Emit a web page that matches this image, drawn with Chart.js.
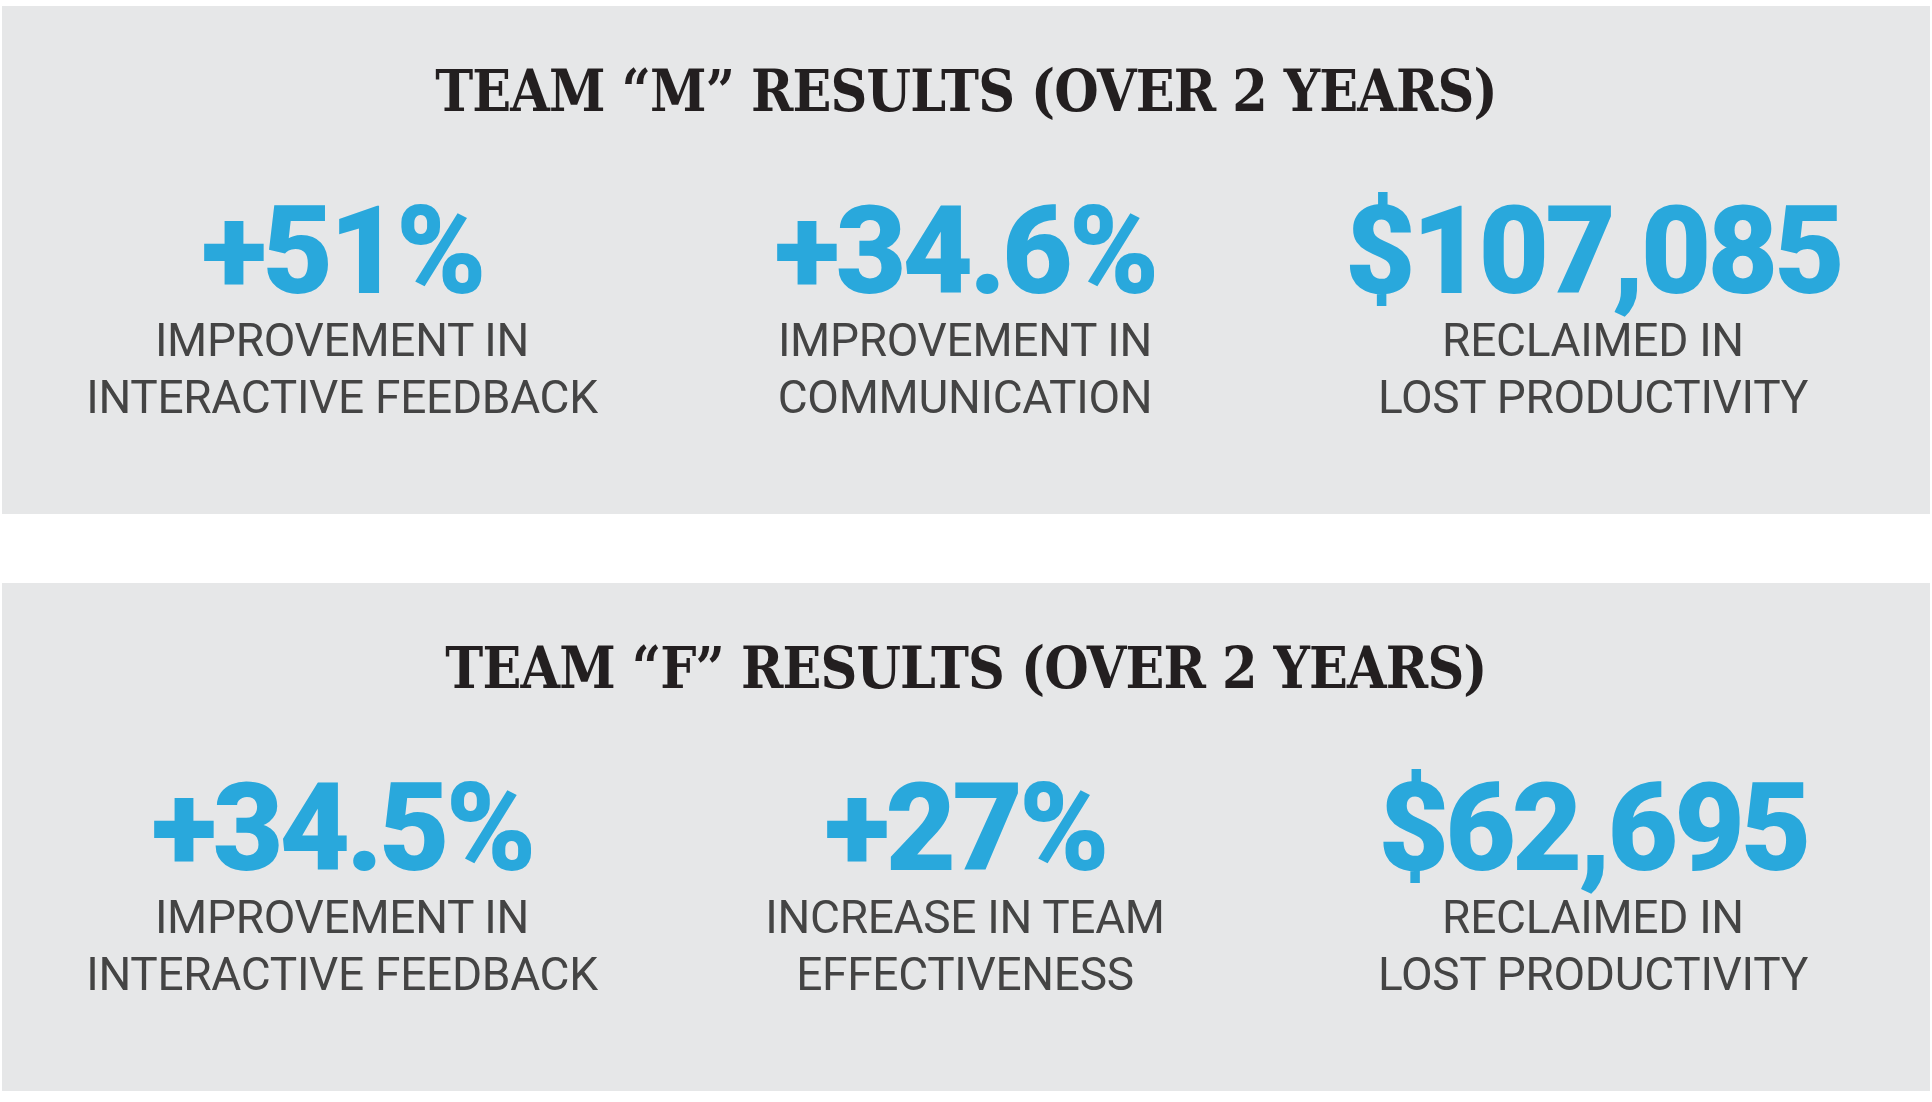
<!DOCTYPE html>
<html><head><meta charset="utf-8">
<script src="https://cdn.jsdelivr.net/npm/chart.js@4"></script>
<style>
html,body{margin:0;padding:0;background:#fff;width:1932px;height:1102px;overflow:hidden}
#bg{position:absolute;left:0;top:0}
.t{position:absolute;left:0;width:1932px;text-align:center;font-family:"DejaVu Serif",serif;font-weight:bold;font-size:58px;color:#231f20;letter-spacing:-1px;transform:translateY(-50%) scaleX(0.88)}
.v{position:absolute;width:640px;text-align:center;font-family:Roboto,sans-serif;font-weight:900;font-size:122px;color:#29a8dc;letter-spacing:-4px;transform:translate(-50%,-50%);line-height:1}
.l{position:absolute;width:640px;text-align:center;font-family:Roboto,sans-serif;font-size:46px;color:#444;line-height:57px;transform:translateX(-50%);letter-spacing:-0.3px}
</style></head><body>
<canvas id="bg" width="1932" height="1102"></canvas>
<div id="txt"></div>
<script>
const titles = ['TEAM \u201cM\u201d RESULTS (OVER 2 YEARS)', 'TEAM \u201cF\u201d RESULTS (OVER 2 YEARS)'];
const valuesM = ['+51%', '+34.6%', '$107,085'];
const labelsM = [['IMPROVEMENT IN', 'INTERACTIVE FEEDBACK'], ['IMPROVEMENT IN', 'COMMUNICATION'], ['RECLAIMED IN', 'LOST PRODUCTIVITY']];
const valuesF = ['+34.5%', '+27%', '$62,695'];
const labelsF = [['IMPROVEMENT IN', 'INTERACTIVE FEEDBACK'], ['INCREASE IN TEAM', 'EFFECTIVENESS'], ['RECLAIMED IN', 'LOST PRODUCTIVITY']];

const panelTops = [6, 583];
const panelHeight = 508;
const colX = [342, 965, 1593];

const panelBg = {
  id: 'panelBg',
  beforeDraw(chart) {
    const ctx = chart.ctx;
    ctx.save();
    ctx.fillStyle = '#e6e7e8';
    panelTops.forEach(y => ctx.fillRect(2, y, 1928, panelHeight));
    ctx.restore();
  }
};
new Chart(document.getElementById('bg'), {
  type: 'scatter',
  data: { datasets: [{ data: [] }] },
  options: {
    responsive: false, animation: false,
    plugins: { legend: { display: false }, tooltip: { enabled: false } },
    scales: { x: { display: false }, y: { display: false } }
  },
  plugins: [panelBg]
});

const txt = document.getElementById('txt');
function add(cls, text, x, y) {
  const d = document.createElement('div');
  d.className = cls; d.textContent = text;
  if (x !== null) d.style.left = x + 'px';
  d.style.top = y + 'px';
  txt.appendChild(d);
}
[[valuesM, labelsM], [valuesF, labelsF]].forEach(([vals, labs], p) => {
  const top = panelTops[p];
  add('t', titles[p], null, top + 85);
  vals.forEach((v, i) => {
    add('v', v, colX[i], top + 246);
    const d = document.createElement('div');
    d.className = 'l';
    d.style.left = colX[i] + 'px';
    d.style.top = (top + 306) + 'px';
    d.innerHTML = labs[i].join('<br>');
    txt.appendChild(d);
  });
});
</script>
</body></html>
